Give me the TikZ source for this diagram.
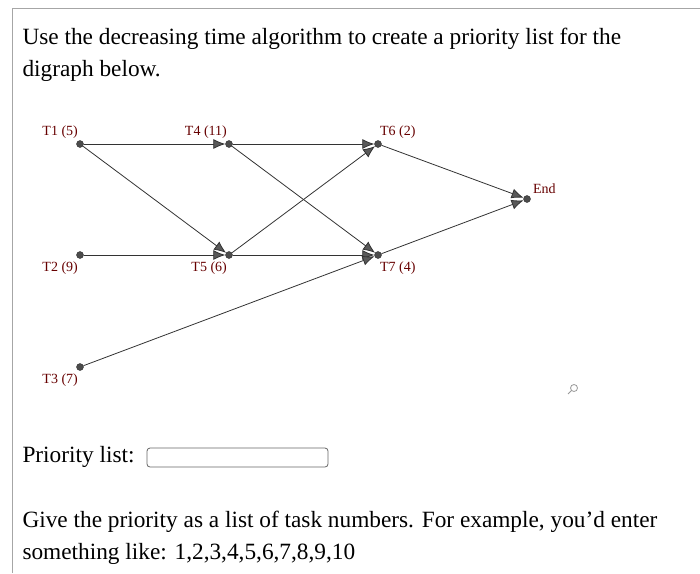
\documentclass[tikz,border=0pt]{standalone}
\usepackage{fontspec}
\setmainfont{Liberation Serif}
\usetikzlibrary{positioning,arrows.meta}

\begin{document}
\begin{tikzpicture}[
    x=1pt, y=-1pt,
    task/.style={circle, fill=black!70, draw=black!80, inner sep=0pt, minimum size=7pt},
    tlabel/.style={font=\fontsize{14}{16}\selectfont, text=red!40!black},
    edge/.style={draw=black!80, line width=0.8pt, -{Latex[length=12pt,width=10pt,fill=black!65]}},
    body/.style={font=\fontsize{23.3}{32}\selectfont, anchor=west, align=left}
    ]
\useasboundingbox (0,0) rectangle (700,573);
\draw[black!35] (12,573) -- (12,8) -- (700,8);

\node[body, anchor=north west] (question) at (19,25)
  {Use the decreasing time algorithm to create a priority list for the\\digraph below.};

% tasks
\node[task] (T1) at (80,144) {};
\node[task] (T4) at (229,144) {};
\node[task] (T6) at (378,144) {};
\node[task] (End) at (527,199) {};
\node[task] (T2) at (80,255) {};
\node[task] (T5) at (229,255) {};
\node[task] (T7) at (378,255) {};
\node[task] (T3) at (80,367) {};

\node[tlabel, above left=-1pt and -4pt of T1] {T1 (5)};
\node[tlabel, above left=-1pt and -4pt of T4] {T4 (11)};
\node[tlabel, above right=-1pt and -4pt of T6] {T6 (2)};
\node[tlabel, above right=-1pt and 0pt of End] {End};
\node[tlabel, below left=1pt and -4pt of T2] {T2 (9)};
\node[tlabel, below left=1pt and -4pt of T5] {T5 (6)};
\node[tlabel, below right=1pt and -4pt of T7] {T7 (4)};
\node[tlabel, below left=1pt and -4pt of T3] {T3 (7)};

% precedence
\draw[edge] (T1) -- (T4);
\draw[edge] (T1) -- (T5);
\draw[edge] (T4) -- (T6);
\draw[edge] (T4) -- (T7);
\draw[edge] (T2) -- (T5);
\draw[edge] (T5) -- (T6);
\draw[edge] (T5) -- (T7);
\draw[edge] (T3) -- (T7);
\draw[edge] (T6) -- (End);
\draw[edge] (T7) -- (End);

% search icon
\draw[black!40, line width=0.8pt] (574,388) circle (3.5pt);
\draw[black!40, line width=1pt] (571.5,390.5) -- (568,394);

\node[body] (prio) at (19,457) {Priority list:};
\draw[black!60, rounded corners=3pt, line width=0.8pt] (147,448) rectangle (328,467);

\node[body, anchor=north west] (hint) at (19,508)
  {Give the priority as a list of task numbers. For example, you'd enter\\something like: 1,2,3,4,5,6,7,8,9,10};
\end{tikzpicture}
\end{document}
